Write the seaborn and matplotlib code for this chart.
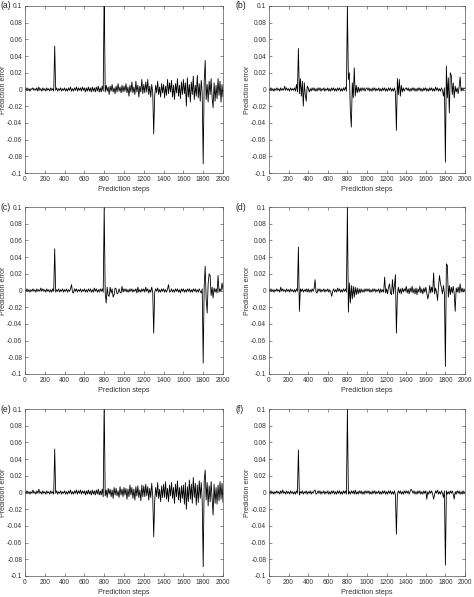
"""
Prediction error of six models over 2000 prediction steps (panels a-f).
"""

import numpy as np
import matplotlib
matplotlib.use("Agg")
import matplotlib.pyplot as plt
from matplotlib.ticker import FuncFormatter
import seaborn as sns

# ── Data (prediction error, in units of 1e-3, sampled every 10 steps) ──────────
STEP = 10

err_a = [1, -1, 2, -1, 1, -2, 1, 0, 2, -1, 1, -1, 2, -2, 3, -1, 1, -2, 2, -1,
         1, -2, 2, -1, 1, -2, 2, -1, 1, -2, 52, -1, 2, -2, 1, -1, 2, -2, 1, -1,
         2, -2, 1, -2, 2, -1, 3, -2, 1, -2, 2, -1, 3, -2, 2, -1, 2, -2, 3, -1,
         2, -3, 2, -2, 3, -2, 2, -3, 3, -2, 2, -3, 3, -2, 4, -3, 2, -3, 4, -2,
         120, -3, 5, -2, 3, -6, 4, -2, 6, -3, 2, -5, 4, -3, 7, -2, 3, -4, 5, -3,
         4, -2, 7, -4, 3, -8, 5, -3, 9, -4, 3, -6, 10, -3, 5, -9, 4, -3, 12, -5,
         6, -4, 9, -3, 12, -6, 4, -9, 6, -3, -53, -8, 5, -4, 10, -6, 3, -9, 7, -4,
         6, -10, 4, -7, 12, -5, 8, -3, 11, -9, 5, -12, 7, -4, 13, -8, 5, -11, 9, -6,
         12, -5, 8, -20, 14, -9, 6, -15, 9, -6, 16, -12, 5, -8, 17, -10, 7, -14, 11, -5,
         -89, 9, 35, -12, 6, -15, 10, -6, 13, -10, -22, 8, -14, 5, -11, 13, -7, 10, -15, 6, -9]

err_b = [1, -1, 2, -1, 1, -2, 1, -1, 2, -1, 1, -2, 2, -1, 1, -1, 4, -1, 2, -1,
         1, -2, 2, -1, 1, -1, 2, -2, 6, -3, 49, -5, 13, -8, 10, -20, 8, -6, -14, 4,
         2, -3, 1, -2, 2, -1, 2, -2, 1, -2, 2, -1, 2, -2, 1, -1, 2, -2, 1, -1,
         2, -2, 1, -2, 2, -1, 2, -2, 1, -2, 2, -1, 2, -2, 1, -2, 2, -1, 3, -2,
         100, 12, 20, -25, -45, 8, -10, 26, -8, 5, -4, 3, -3, 2, -2, 2, -1, 2, -2, 1,
         2, -1, 2, -2, 1, -2, 2, -1, 2, -2, 1, -1, 2, -2, 1, -2, 2, -1, 2, -2,
         1, -2, 2, -1, 2, -2, 1, -2, 2, -3, -49, 13, -6, 12, -8, 5, -3, 2, -2, 1,
         2, -1, 2, -2, 1, -2, 2, -1, 2, -2, 1, -2, 2, -1, 2, -2, 1, -2, 2, -1,
         2, -2, 1, -2, 2, -1, 2, -2, 1, -2, 3, -1, 2, -2, 1, -2, 2, -1, -8, 2,
         -87, 28, -10, 14, -28, 20, 17, -6, 8, -10, 4, -3, 2, -5, 3, 15, -2, 2, -1, 2, 1]

err_c = [1, -1, 2, -1, 1, -2, 1, -1, 2, -1, 1, -2, 2, -1, 1, -1, 3, -1, 2, -1,
         1, -2, 2, -1, 1, -2, 1, -2, 2, -1, 50, -2, 1, -1, 2, -2, 1, -1, 2, -2,
         1, -1, 2, -2, 1, -1, 2, 7, -2, -3, 2, -1, 2, -2, 1, -1, 2, -2, 1, -1,
         2, -2, 1, -2, 2, -1, 2, -2, 1, -2, 3, -1, 2, -2, 1, -2, 2, -1, 2, -2,
         100, -3, -15, 4, -6, -7, 4, -3, 2, -8, -5, 3, 2, -4, -3, 2, -2, -3, 5, -2,
         2, -1, 2, -2, 1, -2, 2, -1, 2, -2, 1, -1, 2, -3, 4, -2, 1, -2, 2, -1,
         2, -2, 4, -1, 2, -3, 1, -2, 4, -2, -51, -2, 2, -1, 3, -2, 1, -2, 2, -1,
         2, -2, 1, -2, 2, 7, -2, -1, 2, -2, 1, -2, 2, -1, 2, -2, 1, -3, 2, -1,
         2, -2, 1, -2, 2, -1, 2, -2, 1, -2, 2, -1, 2, -2, 1, -2, 2, -1, -3, 2,
         -87, 5, 29, -10, -27, 8, 20, 18, -6, 4, -9, 3, -2, 2, -3, 18, -2, 2, -1, 9, 1]

err_d = [1, -1, 2, -1, 1, -2, 1, -1, 2, -1, 1, -2, 4, -1, 2, -1, 1, -2, 2, -1,
         1, -2, 2, -1, 1, -2, 1, -2, 2, -1, 52, -25, 2, -1, 2, -2, 1, -1, 2, -2,
         2, -2, 1, -2, 2, -1, 2, 13, -2, -3, 2, -1, 2, -2, 1, -1, 2, -2, 1, -1,
         2, -2, 1, -2, -7, -1, 2, -2, 1, -2, 3, -1, 2, -2, 1, -2, 2, -1, 2, -2,
         100, -26, 9, -15, 6, -10, 5, -8, 4, -5, 3, -4, 2, -3, 2, -2, 1, -2, 2, -1,
         2, -1, 2, -2, 1, -2, 2, -1, 2, -2, 1, -1, 2, -3, 2, -2, 1, -2, 16, -3,
         2, -4, 4, 8, -3, -5, 13, -4, 6, 19, -51, -5, 4, -3, 2, -4, 3, -2, 2, -1,
         5, -3, 2, -4, 3, -2, 5, -3, 2, -4, 3, -5, 2, -2, 5, -3, 2, -4, 3, -2,
         4, -3, -10, -5, 6, -3, 4, -2, 21, -4, 3, -2, -12, 5, 18, 8, 3, -4, 6, -3,
         -91, 32, 30, -8, 6, -5, 4, -3, 5, -4, -25, 3, -2, 4, -3, 8, -2, 3, -2, 2, -1]

err_e = [1, -1, 2, -1, 1, -2, 1, -1, 3, -1, 1, -2, 2, -1, 4, -1, 1, -2, 2, -1,
         1, -2, 2, -1, 1, -2, 2, -1, 1, -2, 52, -1, 2, -2, 1, -1, 2, -2, 1, -1,
         2, -2, 1, -2, 2, -1, 3, -2, 1, -2, 2, -1, 3, -2, 2, -1, 3, -2, 2, -1,
         2, -3, 2, -2, 3, -2, 2, -3, 3, -2, 2, -3, 3, -2, 4, -3, 2, -3, 4, -5,
         110, -4, 3, -6, 5, -2, 4, -5, 3, -7, 6, -3, 5, -4, 2, -6, 7, -3, 4, -5,
         6, -3, 5, -8, 4, -5, 9, -3, 6, -7, 4, -9, 7, -4, 8, -6, 3, -10, 9, -5,
         8, -5, 10, -4, 7, -9, 5, -6, 11, -4, -53, -10, 6, -5, 12, -7, 4, -11, 8, -6,
         10, -6, 13, -8, 5, -11, 9, -4, 12, -7, 6, -13, 10, -5, 14, -9, 6, -12, 8, -7,
         9, -14, 12, -20, 7, -11, 15, -8, 10, -13, 18, -6, 11, -15, 9, -12, 14, -7, 12, -10,
         -89, 14, 27, -9, 12, -16, 8, -11, 13, -7, -27, 10, -13, 6, -14, 9, -10, 13, -8, 11, -12]

err_f = [1, -1, 2, -1, 1, -2, 1, -1, 2, -1, 1, -2, 2, -1, 3, -1, 1, -2, 2, -1,
         1, -2, 2, -1, 1, -2, 1, -2, 2, -1, 51, -3, 1, -1, 2, -2, 1, -1, 2, -2,
         1, -1, 2, -2, 1, -1, 2, 3, -2, -1, 2, -1, 2, -2, 1, -1, 2, -2, 1, -1,
         2, -2, 1, -2, 2, -1, 2, -2, 1, -2, 2, -1, 2, -2, 1, -2, 2, -1, 2, -2,
         100, -2, 1, -2, 2, -1, 2, -2, 3, -2, 1, -2, 2, -1, 2, -2, 1, -2, 2, -1,
         2, -1, 2, -2, 1, -2, 2, -1, 2, -2, 1, -1, 2, -2, 1, -2, 2, -1, 2, -2,
         1, -2, 2, -1, 2, -2, 1, -2, 2, -3, -50, -2, 2, -1, 2, -2, 1, -2, 2, -1,
         2, -1, 2, -2, 1, 4, 2, -1, 2, -2, 1, -2, 2, -1, 2, -2, 1, -2, 2, -1,
         2, -8, 1, -2, 2, -1, 2, -2, -8, -2, 2, -1, 3, -2, 1, -2, 2, -1, -6, 2,
         -87, 2, -2, 1, -2, 2, -1, 2, -2, -8, 1, -2, 2, -1, 2, -2, 1, -2, 2, -1, 1]

panel_labels = ["(a)", "(b)", "(c)", "(d)", "(e)", "(f)"]
panel_errors = [err_a, err_b, err_c, err_d, err_e, err_f]
x_ticks = list(range(0, 2001, 200))
y_ticks = [-0.1, -0.08, -0.06, -0.04, -0.02, 0, 0.02, 0.04, 0.06, 0.08, 0.1]

# ── Layout (pixels of the 474x597 figure) ─────────────────────────────────────
W, H = 474, 597
col_left = [25, 269]
col_width = [198, 196]
row_top = [6, 207, 409]
row_height = 167
ylabel_right = [7.5, 251]   # right edge of the rotated y label
tag_left = [0.5, 236]       # left edge of the "(a)" tags

TEXT = "#333333"

sns.set_style("ticks")
plt.rcParams.update({"font.family": ["Liberation Sans", "DejaVu Sans"],
                     "axes.linewidth": 0.5})

fig = plt.figure(figsize=(W / 100, H / 100), dpi=100)

for i, (label, err) in enumerate(zip(panel_labels, panel_errors)):
    r, c = divmod(i, 2)
    bottom = 1 - (row_top[r] + row_height) / H
    ax = fig.add_axes([col_left[c] / W, bottom, col_width[c] / W, row_height / H])

    vals = np.array(err) / 1000.0
    steps = np.arange(len(vals)) * STEP
    sns.lineplot(x=steps, y=vals, ax=ax, color="black", linewidth=0.6)

    ax.set_xlim(0, 2000)
    ax.set_ylim(-0.1, 0.1)
    ax.set_xticks(x_ticks)
    ax.set_yticks(y_ticks)
    ax.yaxis.set_major_formatter(FuncFormatter(lambda v, _: f"{v:g}"))
    ax.tick_params(direction="in", top=True, right=True, length=2,
                   width=0.4, labelsize=4.8, pad=2, colors=TEXT)
    for sp in ax.spines.values():
        sp.set_color("#555555")

    ax.set_xlabel("Prediction steps", fontsize=5.2, labelpad=2, color=TEXT)
    ax.set_ylabel("Prediction error", fontsize=5.0, color=TEXT)
    ax.yaxis.set_label_coords((ylabel_right[c] - col_left[c]) / col_width[c], 0.5)

    fig.text(tag_left[c] / W, 1 - row_top[r] / H, label, fontsize=6.2,
             ha="left", va="center", color="#222222")

fig.savefig("out.png", dpi=100)
